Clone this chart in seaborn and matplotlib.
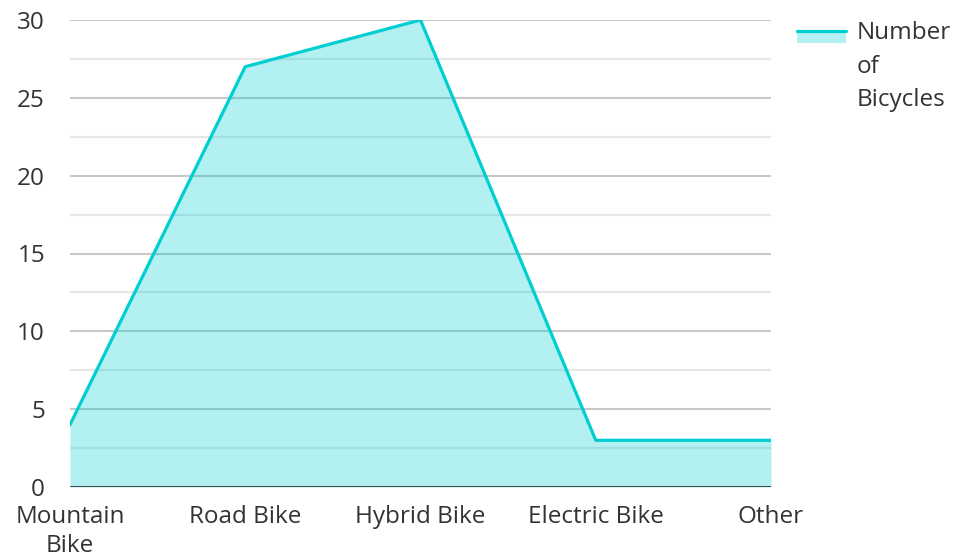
import matplotlib
matplotlib.use("Agg")
import matplotlib.pyplot as plt
import seaborn as sns
import pandas as pd
from matplotlib.patches import Rectangle
from matplotlib.lines import Line2D
from matplotlib.legend_handler import HandlerBase

categories = ["Mountain\nBike", "Road Bike", "Hybrid Bike", "Electric Bike", "Other"]
values = [4, 27, 30, 3, 3]
series_name = "Number\nof\nBicycles"
y_ticks = [0, 5, 10, 15, 20, 25, 30]

LINE = "#00CED1"
TEXT = "#333333"
FS = 17.5

sns.set_theme(style="white")
plt.rcParams["font.family"] = ["Open Sans", "DejaVu Sans"]

df = pd.DataFrame({"pos": range(len(categories)), "value": values})

fig = plt.figure(figsize=(9.55, 5.58), dpi=100)
ax = fig.add_axes([70 / 955, 1 - 487 / 558, (771 - 70) / 955, (487 - 20) / 558])

# grid
for v in [t + 2.5 for t in y_ticks[:-1]]:
    ax.axhline(v, color="#e6e6e6", lw=1.5, zorder=0)
for v in y_ticks[1:]:
    ax.axhline(v, color="#c8c8c8", lw=1.5, zorder=0)

ax.fill_between(df["pos"], 0, df["value"], color=LINE, alpha=0.3, lw=0, zorder=1)
sns.lineplot(data=df, x="pos", y="value", ax=ax, color=LINE, lw=2.3, zorder=3, legend=False)
ax.axhline(0, color="#333333", lw=2, zorder=4)

ax.set_xlim(0, len(categories) - 1)
ax.set_ylim(0, 30)
ax.set_xticks(range(len(categories)))
ax.set_xticklabels(categories)
ax.set_yticks(y_ticks)
ax.set_yticklabels([str(t) for t in y_ticks])
ax.tick_params(axis="both", length=0, labelsize=FS, colors=TEXT)
ax.tick_params(axis="y", pad=18)
ax.tick_params(axis="x", pad=13)
for lab in ax.get_xticklabels():
    lab.set_linespacing(1.3)
ax.set_xlabel("")
ax.set_ylabel("")
for s in ax.spines.values():
    s.set_visible(False)


class AreaHandler(HandlerBase):
    def create_artists(self, legend, orig_handle, xdescent, ydescent, width, height, fontsize, trans):
        top = -ydescent + height * 0.47
        rect = Rectangle((-xdescent, top - height * 0.7), width, height * 0.7,
                         facecolor=LINE, alpha=0.3, lw=0, transform=trans)
        line = Line2D([-xdescent, -xdescent + width], [top, top], color=LINE, lw=2.3, transform=trans)
        return [rect, line]


class EmptyHandler(HandlerBase):
    def create_artists(self, legend, orig_handle, xdescent, ydescent, width, height, fontsize, trans):
        return [Line2D([], [], transform=trans, visible=False)]


class Key:
    pass


parts = series_name.split("\n")
handles = [Key() for _ in parts]
hmap = {handles[0]: AreaHandler()}
for h in handles[1:]:
    hmap[h] = EmptyHandler()

leg = fig.legend(handles, parts, handler_map=hmap, loc="upper left",
                 bbox_to_anchor=(797 / 955, 1 - 21 / 558), frameon=False,
                 fontsize=FS, handlelength=2.0, handletextpad=0.45,
                 labelspacing=0.4, borderpad=0, borderaxespad=0)
for t in leg.get_texts():
    t.set_color(TEXT)

fig.savefig("out.png", dpi=100)
